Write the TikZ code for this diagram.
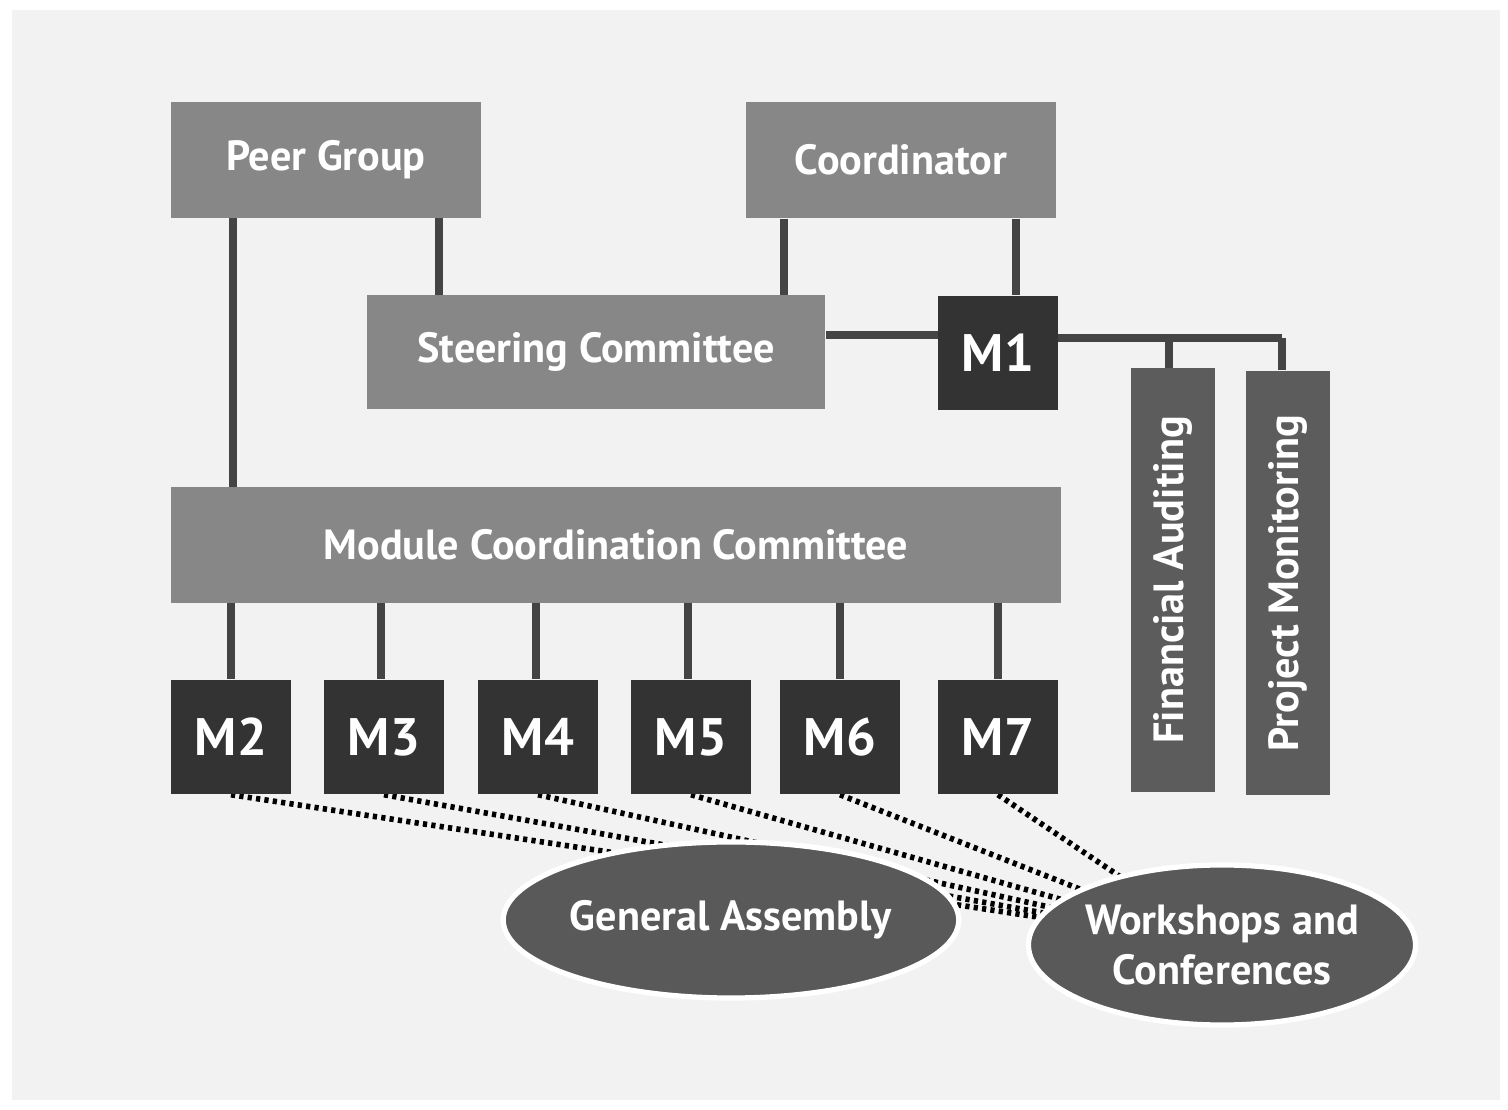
\documentclass[tikz,border=0pt]{standalone}
\usepackage{fontspec}
\setmainfont{PT Sans}
\usetikzlibrary{positioning, shapes.geometric}
\definecolor{bgray}{HTML}{F2F2F2}
\definecolor{lgray}{HTML}{878787}
\definecolor{mgray}{HTML}{5C5C5C}
\definecolor{dgray}{HTML}{333333}
\definecolor{egray}{HTML}{595959}
\definecolor{lnk}{HTML}{444444}
\pgfdeclarelayer{bg}
\pgfdeclarelayer{links}
\pgfsetlayers{bg,links,main}

\begin{document}
\begin{tikzpicture}[x=0.01cm, y=-0.01cm,
  box/.style={fill=lgray, text=white, font=\fontsize{12}{14}\selectfont\bfseries, inner sep=0pt},
  mod/.style={fill=dgray, text=white, font=\fontsize{15}{17}\selectfont\bfseries, minimum width=1.19cm, minimum height=1.14cm, inner sep=0pt},
  side/.style={fill=mgray, text=white, font=\fontsize{12}{14}\selectfont\bfseries, rotate=90, minimum height=0.83cm, inner sep=0pt},
  oval/.style={ellipse, fill=egray, draw=white, line width=1.5pt, text=white, font=\fontsize{12}{14}\selectfont\bfseries, align=center, inner sep=0pt},
  link/.style={draw=lnk, line width=2pt},
  dots/.style={draw=black, line width=1.6pt, dash pattern=on 1.2pt off 1.2pt}]

\useasboundingbox (0,0) rectangle (1508,1110);
\begin{pgfonlayer}{bg}
\fill[white] (0,0) rectangle (1508,1110);
\fill[bgray] (12,10) rectangle (1500,1100);
\end{pgfonlayer}

% top level
\node[box, minimum width=3.09cm, minimum height=1.15cm] (peer) at (326,160) {Peer Group};
\node[box, minimum width=3.10cm, minimum height=1.16cm] (coord) at (901,160) {Coordinator};
\node[box, minimum width=4.58cm, minimum height=1.13cm] (steer) at (596,352) {Steering Committee};
\node[mod] (m1) at (998,353) {M1};
\node[side, minimum width=4.23cm] (fin) at (1173,580) {Financial Auditing};
\node[side, minimum width=4.24cm] (mon) at (1288,583) {Project Monitoring};
\node[box, minimum width=8.90cm, minimum height=1.15cm] (mcc) at (616,545) {Module Coordination Committee};

% modules
\foreach \n/\x in {2/231, 3/384, 4/538, 5/691, 6/840, 7/998}
  \node[mod] (m\n) at (\x,737) {M\n};

% assemblies
\node[oval, minimum width=3.76cm, minimum height=1.56cm] (ga) at (731,920) {General Assembly};
\node[oval, minimum width=3.84cm, minimum height=1.60cm] (wks) at (1222,945) {Workshops and\\Conferences};

% connectors
\begin{pgfonlayer}{links}
\draw[link] (peer.south -| 233,0) -- (mcc.north -| 233,0);
\draw[link] (peer.south -| 439,0) -- (steer.north -| 439,0);
\draw[link] (coord.south -| 784,0) -- (steer.north -| 784,0);
\draw[link] (coord.south -| 1016,0) -- (m1.north -| 1016,0);
\draw[link] (steer.east |- 0,335) -- (m1.west |- 0,335);
\draw[link] (m1.east |- 0,338) -- (1282,338) coordinate (split);
\draw[link] (1169,338) -- (fin.east -| 1169,0);
\draw[link] (split) -- (mon.east -| split);
\foreach \n/\x in {2/231, 3/381, 4/536, 5/688, 6/840, 7/998}
  \draw[link] (mcc.south -| \x,0) -- (m\n.north -| \x,0);
\foreach \n in {2,...,7}
  \draw[dots] (m\n.south) -- (wks.center);
\end{pgfonlayer}
\end{tikzpicture}
\end{document}
